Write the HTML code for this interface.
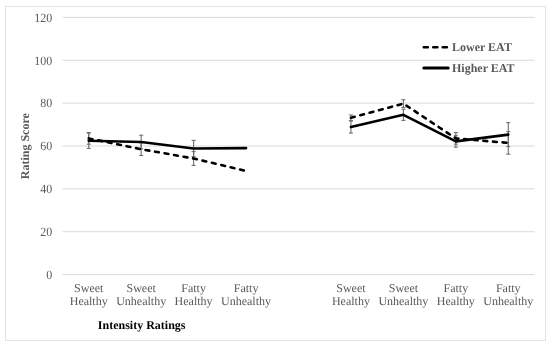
<!DOCTYPE html>
<html><head><meta charset="utf-8"><title>Rating Score chart</title>
<style>
html,body{margin:0;padding:0;background:#fff;}
body{width:550px;height:345px;overflow:hidden;position:relative;}
.frame{position:absolute;left:5px;top:6px;width:539px;height:333px;border:1px solid #e2e2e2;}
svg{position:absolute;left:0;top:0;text-rendering:geometricPrecision;}
text{font-family:"Liberation Serif","Times New Roman",serif;}
.yl,.xl{font-size:12px;fill:#595959;}
.lg{font-size:12px;font-weight:bold;fill:#595959;}
.at{font-size:12px;font-weight:bold;fill:#000;}
.yt{font-size:12px;font-weight:bold;fill:#595959;}
</style></head>
<body>
<div class="frame"></div>
<svg width="550" height="345" viewBox="0 0 550 345">
<line x1="62.5" y1="17.40" x2="534.5" y2="17.40" stroke="#d9d9d9" stroke-width="1"/>
<line x1="62.5" y1="60.27" x2="534.5" y2="60.27" stroke="#d9d9d9" stroke-width="1"/>
<line x1="62.5" y1="103.13" x2="534.5" y2="103.13" stroke="#d9d9d9" stroke-width="1"/>
<line x1="62.5" y1="146.00" x2="534.5" y2="146.00" stroke="#d9d9d9" stroke-width="1"/>
<line x1="62.5" y1="188.87" x2="534.5" y2="188.87" stroke="#d9d9d9" stroke-width="1"/>
<line x1="62.5" y1="231.73" x2="534.5" y2="231.73" stroke="#d9d9d9" stroke-width="1"/>
<line x1="62.5" y1="274.60" x2="534.5" y2="274.60" stroke="#d9d9d9" stroke-width="1"/>
<text transform="translate(52.3,21.70) scale(0.95,1)" text-anchor="end" class="yl" style="font-size:12.6px">120</text>
<text transform="translate(52.3,64.57) scale(0.95,1)" text-anchor="end" class="yl" style="font-size:12.6px">100</text>
<text transform="translate(52.3,107.43) scale(0.95,1)" text-anchor="end" class="yl" style="font-size:12.6px">80</text>
<text transform="translate(52.3,150.30) scale(0.95,1)" text-anchor="end" class="yl" style="font-size:12.6px">60</text>
<text transform="translate(52.3,193.17) scale(0.95,1)" text-anchor="end" class="yl" style="font-size:12.6px">40</text>
<text transform="translate(52.3,236.03) scale(0.95,1)" text-anchor="end" class="yl" style="font-size:12.6px">20</text>
<text transform="translate(52.3,278.90) scale(0.95,1)" text-anchor="end" class="yl" style="font-size:12.6px">0</text>
<text x="88.72" y="292.2" text-anchor="middle" class="xl">Sweet</text>
<text x="88.72" y="305.4" text-anchor="middle" class="xl">Healthy</text>
<text x="141.17" y="292.2" text-anchor="middle" class="xl">Sweet</text>
<text x="141.17" y="305.4" text-anchor="middle" class="xl">Unhealthy</text>
<text x="193.61" y="292.2" text-anchor="middle" class="xl">Fatty</text>
<text x="193.61" y="305.4" text-anchor="middle" class="xl">Healthy</text>
<text x="246.06" y="292.2" text-anchor="middle" class="xl">Fatty</text>
<text x="246.06" y="305.4" text-anchor="middle" class="xl">Unhealthy</text>
<text x="350.94" y="292.2" text-anchor="middle" class="xl">Sweet</text>
<text x="350.94" y="305.4" text-anchor="middle" class="xl">Healthy</text>
<text x="403.39" y="292.2" text-anchor="middle" class="xl">Sweet</text>
<text x="403.39" y="305.4" text-anchor="middle" class="xl">Unhealthy</text>
<text x="455.83" y="292.2" text-anchor="middle" class="xl">Fatty</text>
<text x="455.83" y="305.4" text-anchor="middle" class="xl">Healthy</text>
<text x="508.28" y="292.2" text-anchor="middle" class="xl">Fatty</text>
<text x="508.28" y="305.4" text-anchor="middle" class="xl">Unhealthy</text>
<g stroke="#6e6e6e" stroke-width="1.1"><line x1="88.72" y1="132.60" x2="88.72" y2="144.20"/><line x1="86.72" y1="132.60" x2="90.72" y2="132.60"/><line x1="86.72" y1="144.20" x2="90.72" y2="144.20"/><line x1="141.17" y1="142.90" x2="141.17" y2="155.50"/><line x1="139.17" y1="142.90" x2="143.17" y2="142.90"/><line x1="139.17" y1="155.50" x2="143.17" y2="155.50"/><line x1="193.61" y1="151.60" x2="193.61" y2="165.40"/><line x1="191.61" y1="151.60" x2="195.61" y2="151.60"/><line x1="191.61" y1="165.40" x2="195.61" y2="165.40"/><line x1="350.94" y1="115.00" x2="350.94" y2="120.60"/><line x1="348.94" y1="115.00" x2="352.94" y2="115.00"/><line x1="348.94" y1="120.60" x2="352.94" y2="120.60"/><line x1="403.39" y1="99.70" x2="403.39" y2="107.50"/><line x1="401.39" y1="99.70" x2="405.39" y2="99.70"/><line x1="401.39" y1="107.50" x2="405.39" y2="107.50"/><line x1="455.83" y1="132.60" x2="455.83" y2="144.20"/><line x1="453.83" y1="132.60" x2="457.83" y2="132.60"/><line x1="453.83" y1="144.20" x2="457.83" y2="144.20"/><line x1="508.28" y1="131.60" x2="508.28" y2="154.20"/><line x1="506.28" y1="131.60" x2="510.28" y2="131.60"/><line x1="506.28" y1="154.20" x2="510.28" y2="154.20"/><line x1="88.72" y1="133.00" x2="88.72" y2="148.40"/><line x1="86.72" y1="133.00" x2="90.72" y2="133.00"/><line x1="86.72" y1="148.40" x2="90.72" y2="148.40"/><line x1="141.17" y1="135.20" x2="141.17" y2="148.80"/><line x1="139.17" y1="135.20" x2="143.17" y2="135.20"/><line x1="139.17" y1="148.80" x2="143.17" y2="148.80"/><line x1="193.61" y1="140.40" x2="193.61" y2="156.60"/><line x1="191.61" y1="140.40" x2="195.61" y2="140.40"/><line x1="191.61" y1="156.60" x2="195.61" y2="156.60"/><line x1="350.94" y1="120.90" x2="350.94" y2="133.10"/><line x1="348.94" y1="120.90" x2="352.94" y2="120.90"/><line x1="348.94" y1="133.10" x2="352.94" y2="133.10"/><line x1="403.39" y1="109.20" x2="403.39" y2="120.40"/><line x1="401.39" y1="109.20" x2="405.39" y2="109.20"/><line x1="401.39" y1="120.40" x2="405.39" y2="120.40"/><line x1="455.83" y1="135.65" x2="455.83" y2="147.15"/><line x1="453.83" y1="135.65" x2="457.83" y2="135.65"/><line x1="453.83" y1="147.15" x2="457.83" y2="147.15"/><line x1="508.28" y1="122.60" x2="508.28" y2="146.60"/><line x1="506.28" y1="122.60" x2="510.28" y2="122.60"/><line x1="506.28" y1="146.60" x2="510.28" y2="146.60"/></g>
<polyline points="88.72,138.40 141.17,149.20 193.61,158.50 246.06,171.00" fill="none" stroke="#000" stroke-width="2.6" stroke-dasharray="3.9 5.76" stroke-linecap="round" stroke-linejoin="round"/>
<polyline points="88.72,140.70 141.17,142.00 193.61,148.50 246.06,148.10" fill="none" stroke="#000" stroke-width="2.6" stroke-linecap="round" stroke-linejoin="round"/>
<polyline points="350.94,117.80 403.39,103.60 455.83,138.40 508.28,142.90" fill="none" stroke="#000" stroke-width="2.6" stroke-dasharray="3.9 5.76" stroke-linecap="round" stroke-linejoin="round"/>
<polyline points="350.94,127.00 403.39,114.80 455.83,141.40 508.28,134.60" fill="none" stroke="#000" stroke-width="2.6" stroke-linecap="round" stroke-linejoin="round"/>
<line x1="423.7" y1="47.3" x2="446.9" y2="47.3" stroke="#000" stroke-width="2.5" stroke-dasharray="4.2 5.3" stroke-linecap="round"/>
<line x1="423.8" y1="68" x2="448.2" y2="68" stroke="#000" stroke-width="3" stroke-linecap="round"/>
<text x="452" y="51.2" class="lg">Lower EAT</text>
<text x="452" y="71.6" class="lg">Higher EAT</text>
<text x="141.7" y="329.1" text-anchor="middle" class="at">Intensity Ratings</text>
<text transform="translate(28.6,146.2) rotate(-90)" text-anchor="middle" class="yt">Rating Score</text>
</svg>
</body></html>
